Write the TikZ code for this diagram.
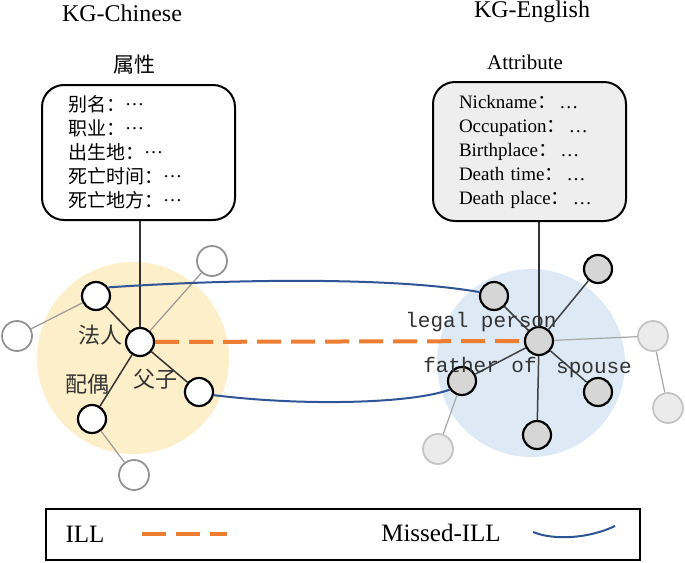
\documentclass[tikz,border=0pt]{standalone}
\usepackage{fontspec}
\setmainfont{Liberation Serif}
\setmonofont{Liberation Mono}
\newfontfamily\cjk{Noto Sans CJK SC}
\newcommand{\middots}{\raisebox{0.32em}{\rmfamily …}}
\definecolor{ylw}{HTML}{FCEFC9}
\definecolor{lblue}{HTML}{DDEAF6}
\definecolor{orng}{HTML}{ED7D31}
\definecolor{dblue}{HTML}{2F5597}
\definecolor{boxgrey}{HTML}{EEEEEE}
\definecolor{ndgrey}{HTML}{D6D6D6}
\definecolor{ltgrey}{HTML}{EBEBEB}
\definecolor{ltedge}{HTML}{C4C4C4}
\definecolor{txt}{HTML}{333333}
\begin{document}
\begin{tikzpicture}[x=1pt,y=-1pt,
  title/.style={font=\fontsize{24}{28}\selectfont, inner sep=0},
  subtitle/.style={font=\fontsize{21}{24}\selectfont, inner sep=0},
  attrbox/.style={draw, line width=2pt, rounded corners=22pt, minimum width=193, text width=141, inner xsep=26, align=left, font=\fontsize{19}{24}\selectfont},
  lnode/.style={circle, draw, line width=2.2pt, fill=white, minimum size=28, inner sep=0},
  onode/.style={circle, draw=gray!85, line width=1.8pt, fill=white, minimum size=30, inner sep=0},
  rnode/.style={circle, draw, line width=2.2pt, fill=ndgrey, minimum size=28, inner sep=0},
  lonode/.style={circle, draw=ltedge, line width=1.8pt, fill=ltgrey, minimum size=30, inner sep=0},
  edge/.style={draw=black!80, line width=1.5pt},
  oedge/.style={draw=gray!80, line width=1.2pt},
  redge/.style={draw=black!75, line width=1.5pt},
  roedge/.style={draw=gray!70, line width=1.2pt},
  vline/.style={draw=black!80, line width=1.5pt},
  ill/.style={draw=orng, line width=4pt, dash pattern=on 24pt off 10pt},
  missed/.style={draw=dblue, line width=2pt},
  cjklabel/.style={font=\cjk\fontsize{22}{24}\selectfont, text=txt, inner sep=0},
  monolabel/.style={font=\ttfamily\fontsize{21}{24}\selectfont, text=txt, inner sep=0},
  legtext/.style={font=\fontsize{25}{28}\selectfont, inner sep=0}
]
\useasboundingbox (0,0) rectangle (685,562);

% background circles
\fill[ylw] (133,358) circle (96);
\fill[lblue] (531,363) circle (94);

% titles
\node[title] (t1) at (122,13) {KG-Chinese};
\node[title] (t2) at (532,12) {KG-English};
\node[subtitle, font=\cjk\fontsize{21}{24}\selectfont] (s1) at (134,65) {属性};
\node[subtitle] (s2) at (525,62) {Attribute};

% attribute boxes
\node[attrbox, fill=white, minimum height=135] (lbox) at (138.5,152.5) {\cjk 别名：\middots\\ 职业：\middots\\ 出生地：\middots\\ 死亡时间：\middots\\ 死亡地方：\middots};
\node[attrbox, fill=boxgrey, minimum height=139] (rbox) at (529.5,151.5) {Nickname{\cjk ：}\,…\\ Occupation{\cjk ：}\,…\\ Birthplace{\cjk ：}\,…\\ Death time{\cjk ：}\,…\\ Death place{\cjk ：}\,…};

% left graph nodes
\node[lnode] (lc) at (140,342) {};
\node[lnode] (la) at (96,296) {};
\node[lnode] (lb) at (199,392) {};
\node[lnode] (ld) at (92,419) {};
\node[onode] (lo1) at (17,336) {};
\node[onode] (lo2) at (212,261) {};
\node[onode] (lo3) at (134,475) {};

% right graph nodes
\node[rnode] (rc) at (539,341) {};
\node[rnode] (ra) at (494,296) {};
\node[rnode] (rb) at (598,269) {};
\node[rnode] (rd) at (462,381) {};
\node[rnode] (re) at (598,392) {};
\node[rnode] (rf) at (537,435) {};
\node[lonode] (ro1) at (653,336) {};
\node[lonode] (ro2) at (668,408) {};
\node[lonode] (ro3) at (438,449) {};

% vertical links
\draw[vline] (lc |- lbox.south) -- (lc);
\draw[vline] (rc |- rbox.south) -- (rc);

% left edges
\draw[edge] (lc) -- (la);
\draw[edge] (lc) -- (lb);
\draw[edge] (lc) -- (ld);
\draw[oedge] (la) -- (lo1);
\draw[oedge] (lc) -- (lo2);
\draw[oedge] (ld) -- (lo3);

% right edges
\draw[redge] (rc) -- (ra);
\draw[redge] (rc) -- (rb);
\draw[redge] (rc) -- (rd);
\draw[redge] (rc) -- (re);
\draw[redge] (rc) -- (rf);
\draw[roedge] (rc) -- (ro1);
\draw[roedge] (ro1) -- (ro2);
\draw[roedge] (rd) -- (ro3);

% alignment links
\draw[ill] (lc) -- (rc);
\draw[missed] (la.35) .. controls (250,278) and (400,278) .. (ra.165);
\draw[missed] (lb.-12) .. controls (300,406) and (410,404) .. (rd.215);

% relation labels
\node[cjklabel] (l1) at (100,335) {法人};
\node[cjklabel] (l2) at (87,384) {配偶};
\node[cjklabel] (l3) at (155,379) {父子};
\node[monolabel] (m1) at (481,322) {legal person};
\node[monolabel] (m2) at (480,365) {father of};
\node[monolabel] (m3) at (594,370) {spouse};

% legend
\node[draw, line width=1.5pt, minimum width=594, minimum height=51, inner sep=0] (legend) at (343,534.5) {};
\node[legtext] (lg1) at (85,534) {ILL};
\coordinate (d1) at (142,534);
\coordinate (d2) at (227,534);
\draw[ill] (d1) -- (d2);
\node[legtext] (lg2) at (441,533) {Missed-ILL};
\coordinate (b1) at (533,532);
\coordinate (b2) at (615,526);
\draw[missed] (b1) .. controls (555,541) and (590,538) .. (b2);
\end{tikzpicture}
\end{document}
